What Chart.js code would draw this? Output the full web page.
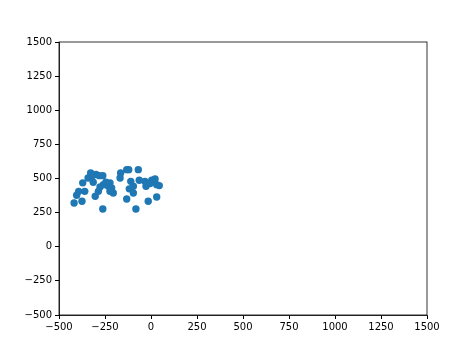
<!DOCTYPE html>
<html>
<head>
<meta charset="utf-8">
<script src="https://cdn.jsdelivr.net/npm/chart.js@4"></script>
<style>
  html, body { margin: 0; padding: 0; background: #fff; }
  #wrap { width: 474px; height: 355px; }
</style>
</head>
<body>
<div id="wrap"><canvas id="scatterChart" width="474" height="355"></canvas></div>
<script>
// points
const xValues = [-418, -404, -393, -371, -375, -360, -342, -328, -321, -314, -299, -281, -262, -303, -286,
                 -277, -259, -262, -245, -232, -223, -214, -205, -223, -165, -168, -132, -121, -69, -110,
                 -118, -96, -96, -132, -82, -64, -33, -27, -5, 4, 22, 31, 45, -15, 31];
const yValues = [321, 377, 406, 468, 333, 406, 504, 541, 516, 472, 529, 521, 521, 370, 406,
                 438, 455, 277, 472, 443, 468, 431, 394, 406, 541, 504, 565, 565, 565, 479,
                 424, 443, 394, 350, 277, 487, 479, 443, 463, 487, 497, 455, 448, 333, 365];
const axisTicks = [-500, -250, 0, 250, 500, 750, 1000, 1250, 1500];

Chart.defaults.font.family = 'DejaVu Sans';
Chart.defaults.font.size = 10;
Chart.defaults.color = '#000';

const points = xValues.map((x, i) => ({ x: x, y: yValues[i] }));
const fmt = v => (v < 0 ? '\u2212' + Math.abs(v) : String(v));

const frame = {
    id: 'frame',
    afterDatasetsDraw(chart) {
        const a = chart.chartArea, c = chart.ctx;
        c.save();
        c.strokeStyle = '#000';
        c.lineWidth = 0.8;
        c.strokeRect(a.left, a.top, a.right - a.left, a.bottom - a.top);
        c.restore();
    }
};

const ctx = document.getElementById('scatterChart').getContext('2d');
new Chart(ctx, {
    type: 'scatter',
    data: {
        datasets: [{
            data: points,
            backgroundColor: '#1f77b4',
            borderColor: '#1f77b4',
            pointRadius: 3.7,
            pointHoverRadius: 3.7,
            borderWidth: 0
        }]
    },
    options: {
        responsive: false,
        animation: false,
        layout: { padding: { top: 42, right: 47, left: 0, bottom: 0 } },
        plugins: {
            legend: { display: false },
            tooltip: { enabled: false }
        },
        scales: {
            x: {
                min: -500, max: 1500,
                afterBuildTicks: axis => { axis.ticks = axisTicks.map(v => ({ value: v })); },
                afterFit: axis => { axis.height = 40; },
                grid: { drawOnChartArea: false, drawTicks: true, tickLength: 4, color: '#000' },
                border: { color: '#000', width: 0.8 },
                ticks: { autoSkip: false, maxRotation: 0, padding: 2, callback: fmt }
            },
            y: {
                min: -500, max: 1500,
                afterBuildTicks: axis => { axis.ticks = axisTicks.map(v => ({ value: v })); },
                afterFit: axis => { axis.width = 59; },
                grid: { drawOnChartArea: false, drawTicks: true, tickLength: 4, color: '#000' },
                border: { color: '#000', width: 0.8 },
                ticks: { autoSkip: false, padding: 3, callback: fmt }
            }
        }
    },
    plugins: [frame]
});
</script>
</body>
</html>
